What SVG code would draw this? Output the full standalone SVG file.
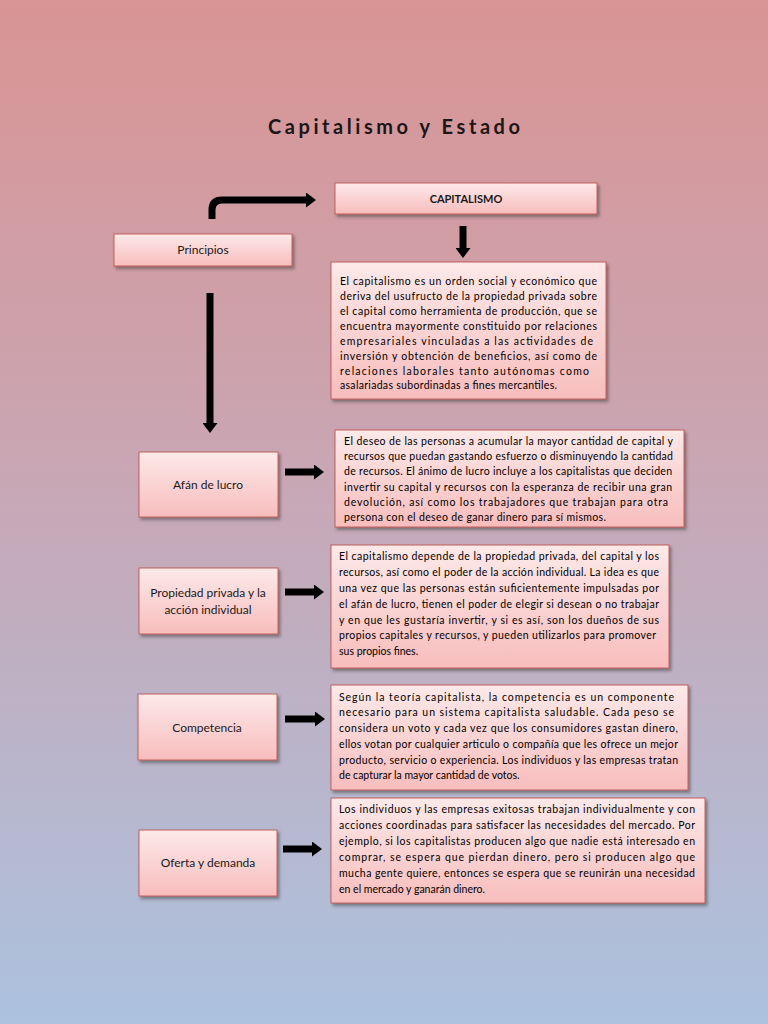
<svg xmlns="http://www.w3.org/2000/svg" width="768" height="1024" viewBox="0 0 768 1024">
<defs>
<linearGradient id="bg" x1="0" y1="0" x2="0" y2="1">
<stop offset="0" stop-color="#d99494"/>
<stop offset="0.45" stop-color="#c9a6b3"/>
<stop offset="1" stop-color="#acc2df"/>
</linearGradient>
<linearGradient id="boxfill" x1="0" y1="0" x2="0" y2="1">
<stop offset="0" stop-color="#fde9e9"/>
<stop offset="1" stop-color="#f8bdbd"/>
</linearGradient>
<filter id="sh" x="-10%" y="-10%" width="130%" height="140%">
<feDropShadow dx="2" dy="2.5" stdDeviation="1.5" flood-color="#404040" flood-opacity="0.55"/>
</filter>
<marker id="ah" markerUnits="userSpaceOnUse" markerWidth="10" markerHeight="15" refX="0" refY="7.5" orient="auto">
<path d="M0,0 L10,7.5 L0,15 z" fill="#000"/>
</marker>
</defs>
<style>
.box{fill:url(#boxfill);stroke:#c0605c;stroke-width:1;filter:url(#sh)}
.lbl{font-family:Lato,"Liberation Sans",sans-serif;font-size:12px;fill:#1a1a1a;text-anchor:middle}
.body{font-family:Lato,"Liberation Sans",sans-serif;font-size:10.5px;fill:#000}
.conn{stroke:#000;stroke-width:7;fill:none}
</style>
<rect x="0" y="0" width="768" height="1024" fill="url(#bg)"/>
<text x="268" y="134" textLength="252" lengthAdjust="spacing" style="font-family:Lato,'Liberation Sans',sans-serif;font-size:20px;font-weight:bold;fill:#1c1616">Capitalismo y Estado</text>

<g id="connectors">
<path class="conn" d="M212,219 V210 Q212,200 222,200 H306" marker-end="url(#ah)"/>
<path class="conn" d="M463,226 V248" marker-end="url(#ah)"/>
<path class="conn" d="M210,293 V423" marker-end="url(#ah)"/>
<path class="conn" d="M285,472 H314" marker-end="url(#ah)"/>
<path class="conn" d="M285,592 H314" marker-end="url(#ah)"/>
<path class="conn" d="M285,719 H315" marker-end="url(#ah)"/>
<path class="conn" d="M283,849 H312" marker-end="url(#ah)"/>
</g>

<g id="capitalismo">
<rect class="box" x="335" y="183" width="262" height="31"/>
<text class="lbl" x="466" y="203" style="font-weight:bold;font-size:11px">CAPITALISMO</text>
</g>

<g id="principios">
<rect class="box" x="114" y="234" width="178" height="32"/>
<text class="lbl" x="203" y="254">Principios</text>
</g>

<g id="def-capitalismo">
<rect class="box" x="331" y="262" width="275" height="137"/>
<text class="body" x="340" y="285" textLength="257" lengthAdjust="spacing">El capitalismo es un orden social y económico que</text>
<text class="body" x="340" y="300" textLength="257" lengthAdjust="spacing">deriva del usufructo de la propiedad privada sobre</text>
<text class="body" x="340" y="315" textLength="257" lengthAdjust="spacing">el capital como herramienta de producción, que se</text>
<text class="body" x="340" y="330" textLength="257" lengthAdjust="spacing">encuentra mayormente constituido por relaciones</text>
<text class="body" x="340" y="345" textLength="253" lengthAdjust="spacing">empresariales vinculadas a las actividades de</text>
<text class="body" x="340" y="360" textLength="257" lengthAdjust="spacing">inversión y obtención de beneficios, así como de</text>
<text class="body" x="340" y="375" textLength="249" lengthAdjust="spacing">relaciones laborales tanto autónomas como</text>
<text class="body" x="340" y="389" textLength="217" lengthAdjust="spacing">asalariadas subordinadas a fines mercantiles.</text>
</g>

<g id="afan">
<rect class="box" x="139" y="452" width="139" height="65"/>
<text class="lbl" x="208" y="489">Afán de lucro</text>
</g>

<g id="def-afan">
<rect class="box" x="335" y="430" width="349" height="97"/>
<text class="body" x="344" y="445" textLength="329" lengthAdjust="spacing">El deseo de las personas a acumular la mayor cantidad de capital y</text>
<text class="body" x="344" y="460" textLength="329" lengthAdjust="spacing">recursos que puedan gastando esfuerzo o disminuyendo la cantidad</text>
<text class="body" x="344" y="475" textLength="328" lengthAdjust="spacing">de recursos. El ánimo de lucro incluye a los capitalistas que deciden</text>
<text class="body" x="344" y="491" textLength="328" lengthAdjust="spacing">invertir su capital y recursos con la esperanza de recibir una gran</text>
<text class="body" x="344" y="506" textLength="324" lengthAdjust="spacing">devolución, así como los trabajadores que trabajan para otra</text>
<text class="body" x="344" y="521" textLength="262" lengthAdjust="spacing">persona con el deseo de ganar dinero para sí mismos.</text>
</g>

<g id="propiedad">
<rect class="box" x="139" y="568" width="139" height="66"/>
<text class="lbl" x="208" y="597">Propiedad privada y la</text>
<text class="lbl" x="208" y="614">acción individual</text>
</g>

<g id="def-propiedad">
<rect class="box" x="331" y="545" width="338" height="123"/>
<text class="body" x="339" y="560" textLength="320" lengthAdjust="spacing">El capitalismo depende de la propiedad privada, del capital y los</text>
<text class="body" x="339" y="576" textLength="320" lengthAdjust="spacing">recursos, así como el poder de la acción individual. La idea es que</text>
<text class="body" x="339" y="592" textLength="320" lengthAdjust="spacing">una vez que las personas están suficientemente impulsadas por</text>
<text class="body" x="339" y="608" textLength="320" lengthAdjust="spacing">el afán de lucro, tienen el poder de elegir si desean o no trabajar</text>
<text class="body" x="339" y="624" textLength="320" lengthAdjust="spacing">y en que les gustaría invertir, y si es así, son los dueños de sus</text>
<text class="body" x="339" y="639" textLength="317" lengthAdjust="spacing">propios capitales y recursos, y pueden utilizarlos para promover</text>
<text class="body" x="339" y="655">sus propios fines.</text>
</g>

<g id="competencia">
<rect class="box" x="138" y="694" width="139" height="66"/>
<text class="lbl" x="207" y="732">Competencia</text>
</g>

<g id="def-competencia">
<rect class="box" x="331" y="685" width="357" height="105"/>
<text class="body" x="339" y="701" textLength="335" lengthAdjust="spacing">Según la teoría capitalista, la competencia es un componente</text>
<text class="body" x="339" y="716" textLength="335" lengthAdjust="spacing">necesario para un sistema capitalista saludable. Cada peso se</text>
<text class="body" x="339" y="732" textLength="339" lengthAdjust="spacing">considera un voto y cada vez que los consumidores gastan dinero,</text>
<text class="body" x="339" y="748" textLength="339" lengthAdjust="spacing">ellos votan por cualquier articulo o compañía que les ofrece un mejor</text>
<text class="body" x="339" y="764" textLength="339" lengthAdjust="spacing">producto, servicio o experiencia. Los individuos y las empresas tratan</text>
<text class="body" x="339" y="779">de capturar la mayor cantidad de votos.</text>
</g>

<g id="oferta">
<rect class="box" x="139" y="830" width="138" height="66"/>
<text class="lbl" x="208" y="867">Oferta y demanda</text>
</g>

<g id="def-oferta">
<rect class="box" x="331" y="798" width="374" height="105"/>
<text class="body" x="339" y="813" textLength="356" lengthAdjust="spacing">Los individuos y las empresas exitosas trabajan individualmente y con</text>
<text class="body" x="339" y="829" textLength="356" lengthAdjust="spacing">acciones coordinadas para satisfacer las necesidades del mercado. Por</text>
<text class="body" x="339" y="845" textLength="356" lengthAdjust="spacing">ejemplo, si los capitalistas producen algo que nadie está interesado en</text>
<text class="body" x="339" y="861" textLength="356" lengthAdjust="spacing">comprar, se espera que pierdan dinero, pero si producen algo que</text>
<text class="body" x="339" y="877" textLength="356" lengthAdjust="spacing">mucha gente quiere, entonces se espera que se reunirán una necesidad</text>
<text class="body" x="339" y="893">en el mercado y ganarán dinero.</text>
</g>
</svg>
